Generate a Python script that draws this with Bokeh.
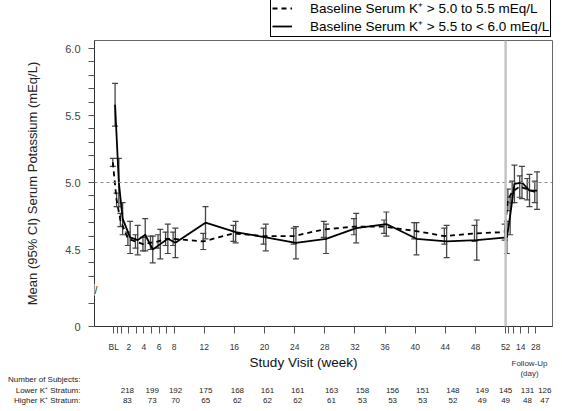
import numpy as np
from bokeh.plotting import figure
from bokeh.layouts import column
from bokeh.models import (ColumnDataSource, Whisker, TeeHead, Span, Label,
                          FixedTicker, Legend, LegendItem)
from bokeh.core.properties import value
from bokeh.embed import file_html
from bokeh.resources import INLINE

# ---------------- data ----------------
weeks = [0, 0.5, 1, 2, 3, 4, 5, 6, 7, 8, 12, 16, 20, 24, 28, 32, 36, 40, 44, 48, 52]
fu_days = [3, 7, 14, 21, 28]
week_labels = {0: "BL", 2: "2", 4: "4", 6: "6", 8: "8", 12: "12", 16: "16", 20: "20",
               24: "24", 28: "28", 32: "32", 36: "36", 40: "40", 44: "44", 48: "48", 52: "52"}
fu_labels = {14: "14", 28: "28"}

lower_mean = [5.15, 4.87, 4.72, 4.58, 4.56, 4.54, 4.55, 4.56, 4.58, 4.58, 4.56, 4.62, 4.60,
              4.60, 4.65, 4.67, 4.67, 4.64, 4.60, 4.62, 4.63, 4.87, 4.93, 4.97, 4.95, 4.93]
lower_hw = [0.03, 0.05, 0.05, 0.05, 0.05, 0.05, 0.05, 0.05, 0.05, 0.05, 0.06, 0.06, 0.06,
            0.06, 0.06, 0.06, 0.05, 0.06, 0.06, 0.06, 0.06, 0.08, 0.08, 0.08, 0.08, 0.08]
higher_mean = [5.58, 5.00, 4.73, 4.59, 4.57, 4.61, 4.50, 4.54, 4.58, 4.55, 4.70, 4.63, 4.59,
               4.55, 4.58, 4.66, 4.69, 4.58, 4.56, 4.57, 4.59, 4.75, 4.99, 5.00, 4.94, 4.94]
higher_hw = [0.16, 0.18, 0.12, 0.12, 0.11, 0.12, 0.10, 0.11, 0.11, 0.11, 0.12, 0.08, 0.10,
             0.12, 0.11, 0.11, 0.09, 0.12, 0.12, 0.15, 0.12, 0.14, 0.14, 0.12, 0.12, 0.14]

count_cols = [1.8, 5.1, 8.2, 12.2, 16.4, 20.4, 24.4, 28.9, 33.0, 37.0, 41.0, 45.0, 48.9,
              52.0, 54.9, 57.2]
lower_n = [218, 199, 192, 175, 168, 161, 161, 163, 158, 156, 151, 148, 149, 145, 131, 126]
higher_n = [83, 73, 70, 65, 62, 62, 62, 61, 53, 53, 53, 52, 49, 49, 48, 47]
row_labels = ["Number of Subjects:", "Lower K\u207a Stratum:", "Higher K\u207a Stratum:"]

legend_labels = ["Baseline Serum K\u207a > 5.0 to 5.5 mEq/L",
                 "Baseline Serum K\u207a > 5.5 to < 6.0 mEq/L"]

FONT = "Liberation Sans"
DASH = "5 4"

# follow-up days placed after week 52 on the week axis
visit_x = np.array(weeks + [52 + d / 7 for d in fu_days], dtype=float)


# page-pixel -> data helpers (layout only)
def px2x(px):
    return (px - 113.3) / 7.535


def py2y(py):
    return 5.0 - (py - 182.0) / 134.0


W = 562
FL, FR = 94, 552          # frame left / right (page px) shared by all three panels
STRIP_H = 40              # legend strip  (page y 0..40)
TOP_END = 354             # main figure ends here (page y)
common = dict(output_backend="svg", toolbar_location=None,
              min_border_left=FL, min_border_right=W - FR)

# ---------------- legend strip ----------------
lg = figure(width=W, height=STRIP_H, x_range=(0, 1), y_range=(0, 1),
            x_axis_location=None, y_axis_location=None,
            min_border_top=0, min_border_bottom=0, **common)
lg.grid.visible = False
lg.outline_line_color = None
# legend-only renderers (no visible data) styled like the series
d_lo = lg.line(x=[np.nan], y=[np.nan], line_color="black", line_width=1.8, line_dash=DASH)
d_hi = lg.line(x=[np.nan], y=[np.nan], line_color="black", line_width=1.8)
legend = Legend(items=[LegendItem(label=legend_labels[0], renderers=[d_lo]),
                       LegendItem(label=legend_labels[1], renderers=[d_hi])],
                location=(176, 3), orientation="vertical",
                border_line_color="black", border_line_width=1, border_line_alpha=1,
                background_fill_color="white", background_fill_alpha=1,
                label_text_font=FONT, label_text_font_size="13.5px", label_text_color="black",
                label_text_line_height=1.0,
                glyph_width=20, glyph_height=12, label_height=12, label_standoff=18,
                padding=1, spacing=-4, margin=0)
lg.add_layout(legend, "center")

# ---------------- main chart ----------------
p = figure(width=W, height=TOP_END - STRIP_H, x_range=(px2x(FL), px2x(FR)),
           y_range=(py2y(326), py2y(40)),
           min_border_top=40 - STRIP_H, min_border_bottom=TOP_END - 326, **common)
p.grid.visible = False
p.outline_line_color = "#666666"
p.outline_line_width = 1

# reference lines
p.add_layout(Span(location=5.0, dimension="width", line_color="#8a8a8a", line_width=1,
                  line_dash="3 3"))
p.add_layout(Span(location=weeks[-1], dimension="height", line_color="#c4c4c4", line_width=2.5))

# series
lo_x = visit_x - 0.13
hi_x = visit_x + 0.17
src_lo = ColumnDataSource(dict(x=lo_x, y=lower_mean,
                               lo=np.array(lower_mean) - np.array(lower_hw),
                               hi=np.array(lower_mean) + np.array(lower_hw)))
src_hi = ColumnDataSource(dict(x=hi_x, y=higher_mean,
                               lo=np.array(higher_mean) - np.array(higher_hw),
                               hi=np.array(higher_mean) + np.array(higher_hw)))

for src in (src_lo, src_hi):
    w = Whisker(source=src, base="x", upper="hi", lower="lo", dimension="height",
                line_color="#444444", line_width=1.3,
                upper_head=TeeHead(size=6, line_color="#444444", line_width=1.2),
                lower_head=TeeHead(size=6, line_color="#444444", line_width=1.2))
    p.add_layout(w)

p.line("x", "y", source=src_lo, line_color="black", line_width=1.8, line_dash=DASH)
p.line("x", "y", source=src_hi, line_color="black", line_width=1.8)

# x axis
x_over = {}
for i, v in enumerate(visit_x):
    if i < len(weeks):
        x_over[float(v)] = week_labels.get(weeks[i], "")
    else:
        x_over[float(v)] = fu_labels.get(fu_days[i - len(weeks)], "")
p.xaxis.ticker = FixedTicker(ticks=[float(v) for v in visit_x], minor_ticks=[])
p.xaxis.major_label_overrides = x_over
p.xaxis.major_label_text_font = FONT
p.xaxis.major_label_text_font_size = "8.5px"
p.xaxis.major_label_text_color = "#333333"
p.xaxis.major_tick_in = 0
p.xaxis.major_tick_out = 7
p.xaxis.major_label_standoff = 8
p.xaxis.axis_line_color = "#333333"
p.xaxis.major_tick_line_color = "#555555"
p.xaxis.minor_tick_line_color = None

# y axis (with a break: "0" sits below the break)
y_zero = py2y(326)
p.yaxis.ticker = FixedTicker(ticks=[y_zero, 4.5, 5.0, 5.5, 6.0],
                             minor_ticks=[4.1, 4.3, 4.4, 4.6, 4.7, 4.8, 4.9, 5.1, 5.2, 5.3,
                                          5.4, 5.6, 5.7, 5.8, 5.9])
p.yaxis.major_label_overrides = {y_zero: "0", 4.5: "4.5", 5.0: "5.0", 5.5: "5.5", 6.0: "6.0"}
p.yaxis.major_label_text_font = FONT
p.yaxis.major_label_text_font_size = "11px"
p.yaxis.major_label_text_color = "#444444"
p.yaxis.major_tick_in = 0
p.yaxis.major_tick_out = 6
p.yaxis.minor_tick_in = 0
p.yaxis.minor_tick_out = 6
p.yaxis.major_label_standoff = 8
p.yaxis.axis_line_color = "#333333"
p.yaxis.major_tick_line_color = "#555555"
p.yaxis.minor_tick_line_color = "#555555"
p.yaxis.axis_label = "Mean (95% CI) Serum Potassium (mEq/L)"
p.yaxis.axis_label_text_font = FONT
p.yaxis.axis_label_text_font_style = "normal"
p.yaxis.axis_label_text_font_size = "13px"
p.yaxis.axis_label_text_color = "#222222"
p.yaxis.axis_label_standoff = 22

# axis break mark
p.add_layout(Label(x=px2x(FL), y=4.2, text="//", text_font=FONT, text_font_size="11px",
                   text_align="center", text_baseline="middle", text_color="#333333",
                   background_fill_color="white"))

# ---------------- lower strip: axis title, follow-up note, subject counts ----------------
t = figure(width=W, height=411 - TOP_END, x_range=(px2x(FL), px2x(FR)), y_range=(411, TOP_END),
           x_axis_location=None, min_border_top=0, min_border_bottom=0, **common)
t.grid.visible = False
t.outline_line_color = None
row_y = [379, 390, 400]
t.yaxis.ticker = FixedTicker(ticks=row_y, minor_ticks=[])
t.yaxis.major_label_overrides = {yy: lab for yy, lab in zip(row_y, row_labels)}
t.yaxis.axis_line_color = None
t.yaxis.major_tick_line_color = None
t.yaxis.minor_tick_line_color = None
t.yaxis.major_tick_in = 0
t.yaxis.major_tick_out = 0
t.yaxis.major_label_standoff = 14
t.yaxis.major_label_text_font = FONT
t.yaxis.major_label_text_font_size = "8px"
t.yaxis.major_label_text_color = "#222222"

t.text(x=[px2x(303)], y=[362], text=["Study Visit (week)"], text_font=value(FONT),
       text_font_size="13.5px", text_align="center", text_baseline="middle", text_color="#111111")
t.text(x=[px2x(529), px2x(529)], y=[363, 373], text=["Follow-Up", "(day)"], text_font=value(FONT),
       text_font_size="8px", text_align="center", text_baseline="middle", text_color="#333333")
cnt = ColumnDataSource(dict(x=count_cols, tlo=[str(v) for v in lower_n],
                            thi=[str(v) for v in higher_n]))
t.text(x="x", y=row_y[1], text="tlo", source=cnt, text_font=value(FONT), text_font_size="8px",
       text_align="center", text_baseline="middle", text_color="#222222")
t.text(x="x", y=row_y[2], text="thi", source=cnt, text_font=value(FONT), text_font_size="8px",
       text_align="center", text_baseline="middle", text_color="#222222")

layout = column(lg, p, t, spacing=0)
open("out.html", "w").write(file_html(layout, INLINE))
